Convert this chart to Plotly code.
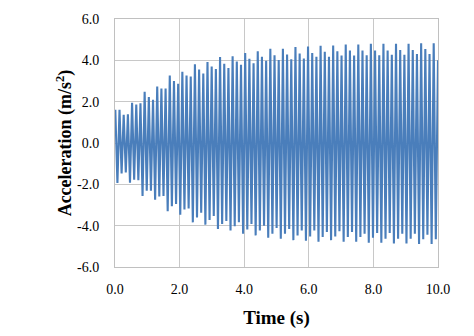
import plotly.graph_objects as go

# Acceleration record: successive positive peaks and negative troughs (m/s^2)
peak_values = [
    1.61, 1.61, 1.37, 1.39, 1.95, 1.86, 1.92, 2.48, 2.23, 2.09, 2.73, 2.64, 2.64,
    3.27, 3.00, 2.86, 3.45, 3.27, 3.22, 3.81, 3.55, 3.36, 3.92, 3.70, 3.58, 4.16,
    3.84, 3.63, 4.20, 3.94, 3.78, 4.36, 4.08, 3.86, 4.44, 4.17, 3.98, 4.56, 4.25,
    4.02, 4.56, 4.28, 4.05, 4.64, 4.33, 4.09, 4.67, 4.36, 4.17, 4.70, 4.41,
    4.17, 4.72, 4.44, 4.23, 4.77, 4.47, 4.23, 4.77, 4.48, 4.25, 4.80, 4.48, 4.25,
    4.80, 4.48, 4.27, 4.80, 4.50, 4.27, 4.80, 4.50, 4.30, 4.83, 4.55, 4.30, 4.83,
]
trough_values = [
    -1.94, -1.47, -1.42, -1.92, -1.78, -1.80, -2.56, -2.31, -2.31, -2.75, -2.59, -2.56,
    -3.30, -3.06, -2.95, -3.47, -3.22, -3.17, -3.84, -3.61, -3.38, -3.95, -3.73, -3.53, -4.16,
    -3.92, -3.77, -4.23, -4.03, -3.84, -4.39, -4.19, -3.92, -4.47, -4.23, -4.00, -4.59, -4.39,
    -4.11, -4.63, -4.39, -4.16, -4.70, -4.47, -4.23, -4.73, -4.52, -4.23, -4.78, -4.55, -4.31,
    -4.70, -4.52, -4.27, -4.78, -4.55, -4.31, -4.78, -4.55, -4.39, -4.83, -4.58, -4.36, -4.83,
    -4.63, -4.36, -4.86, -4.63, -4.39, -4.86, -4.63, -4.39, -4.89, -4.66, -4.44, -4.89, -4.66,
]
end_time = 10.0
end_value = 4.0
first_peak_time = 0.01   # s
cycle_period = 0.1297    # s

x_ticks = [0, 2, 4, 6, 8, 10]
y_ticks = [-6, -4, -2, 0, 2, 4, 6]

# interleave peaks and troughs along the time axis
t, a = [], []
for i, (p, q) in enumerate(zip(peak_values, trough_values)):
    tp = first_peak_time + i * cycle_period
    t += [tp, tp + cycle_period / 2]
    a += [p, q]
t.append(end_time)
a.append(end_value)

fig = go.Figure(go.Scatter(x=t, y=a, mode="lines",
                           line=dict(color="#4a7ebb", width=2.1)))

axis_common = dict(showgrid=True, gridcolor="#c8c8c8", gridwidth=1,
                   showline=True, linecolor="#c0c0c0", linewidth=1, mirror=True,
                   zeroline=False, ticks="",
                   tickfont=dict(family="Liberation Serif", size=14, color="#000"))

fig.update_xaxes(range=[0, 10], tickvals=x_ticks,
                 ticktext=[f"{v:.1f}" for v in x_ticks], ticklabelstandoff=9,
                 title=dict(text="<b>Time (s)</b>", standoff=14,
                            font=dict(family="Liberation Serif", size=19, color="#000")),
                 **axis_common)
fig.update_yaxes(range=[-6, 6], tickvals=y_ticks,
                 ticktext=[f"{v:.1f}" for v in y_ticks], ticklabelstandoff=12,
                 title=dict(text="<b>Acceleration (m/s<sup>2</sup>)</b>", standoff=0,
                            font=dict(family="Liberation Serif", size=18, color="#000")),
                 **axis_common)

fig.update_layout(width=474, height=336,
                  margin=dict(l=115, r=36, t=15, b=65),
                  paper_bgcolor="white", plot_bgcolor="white",
                  showlegend=False)

fig.write_html("out.html")
